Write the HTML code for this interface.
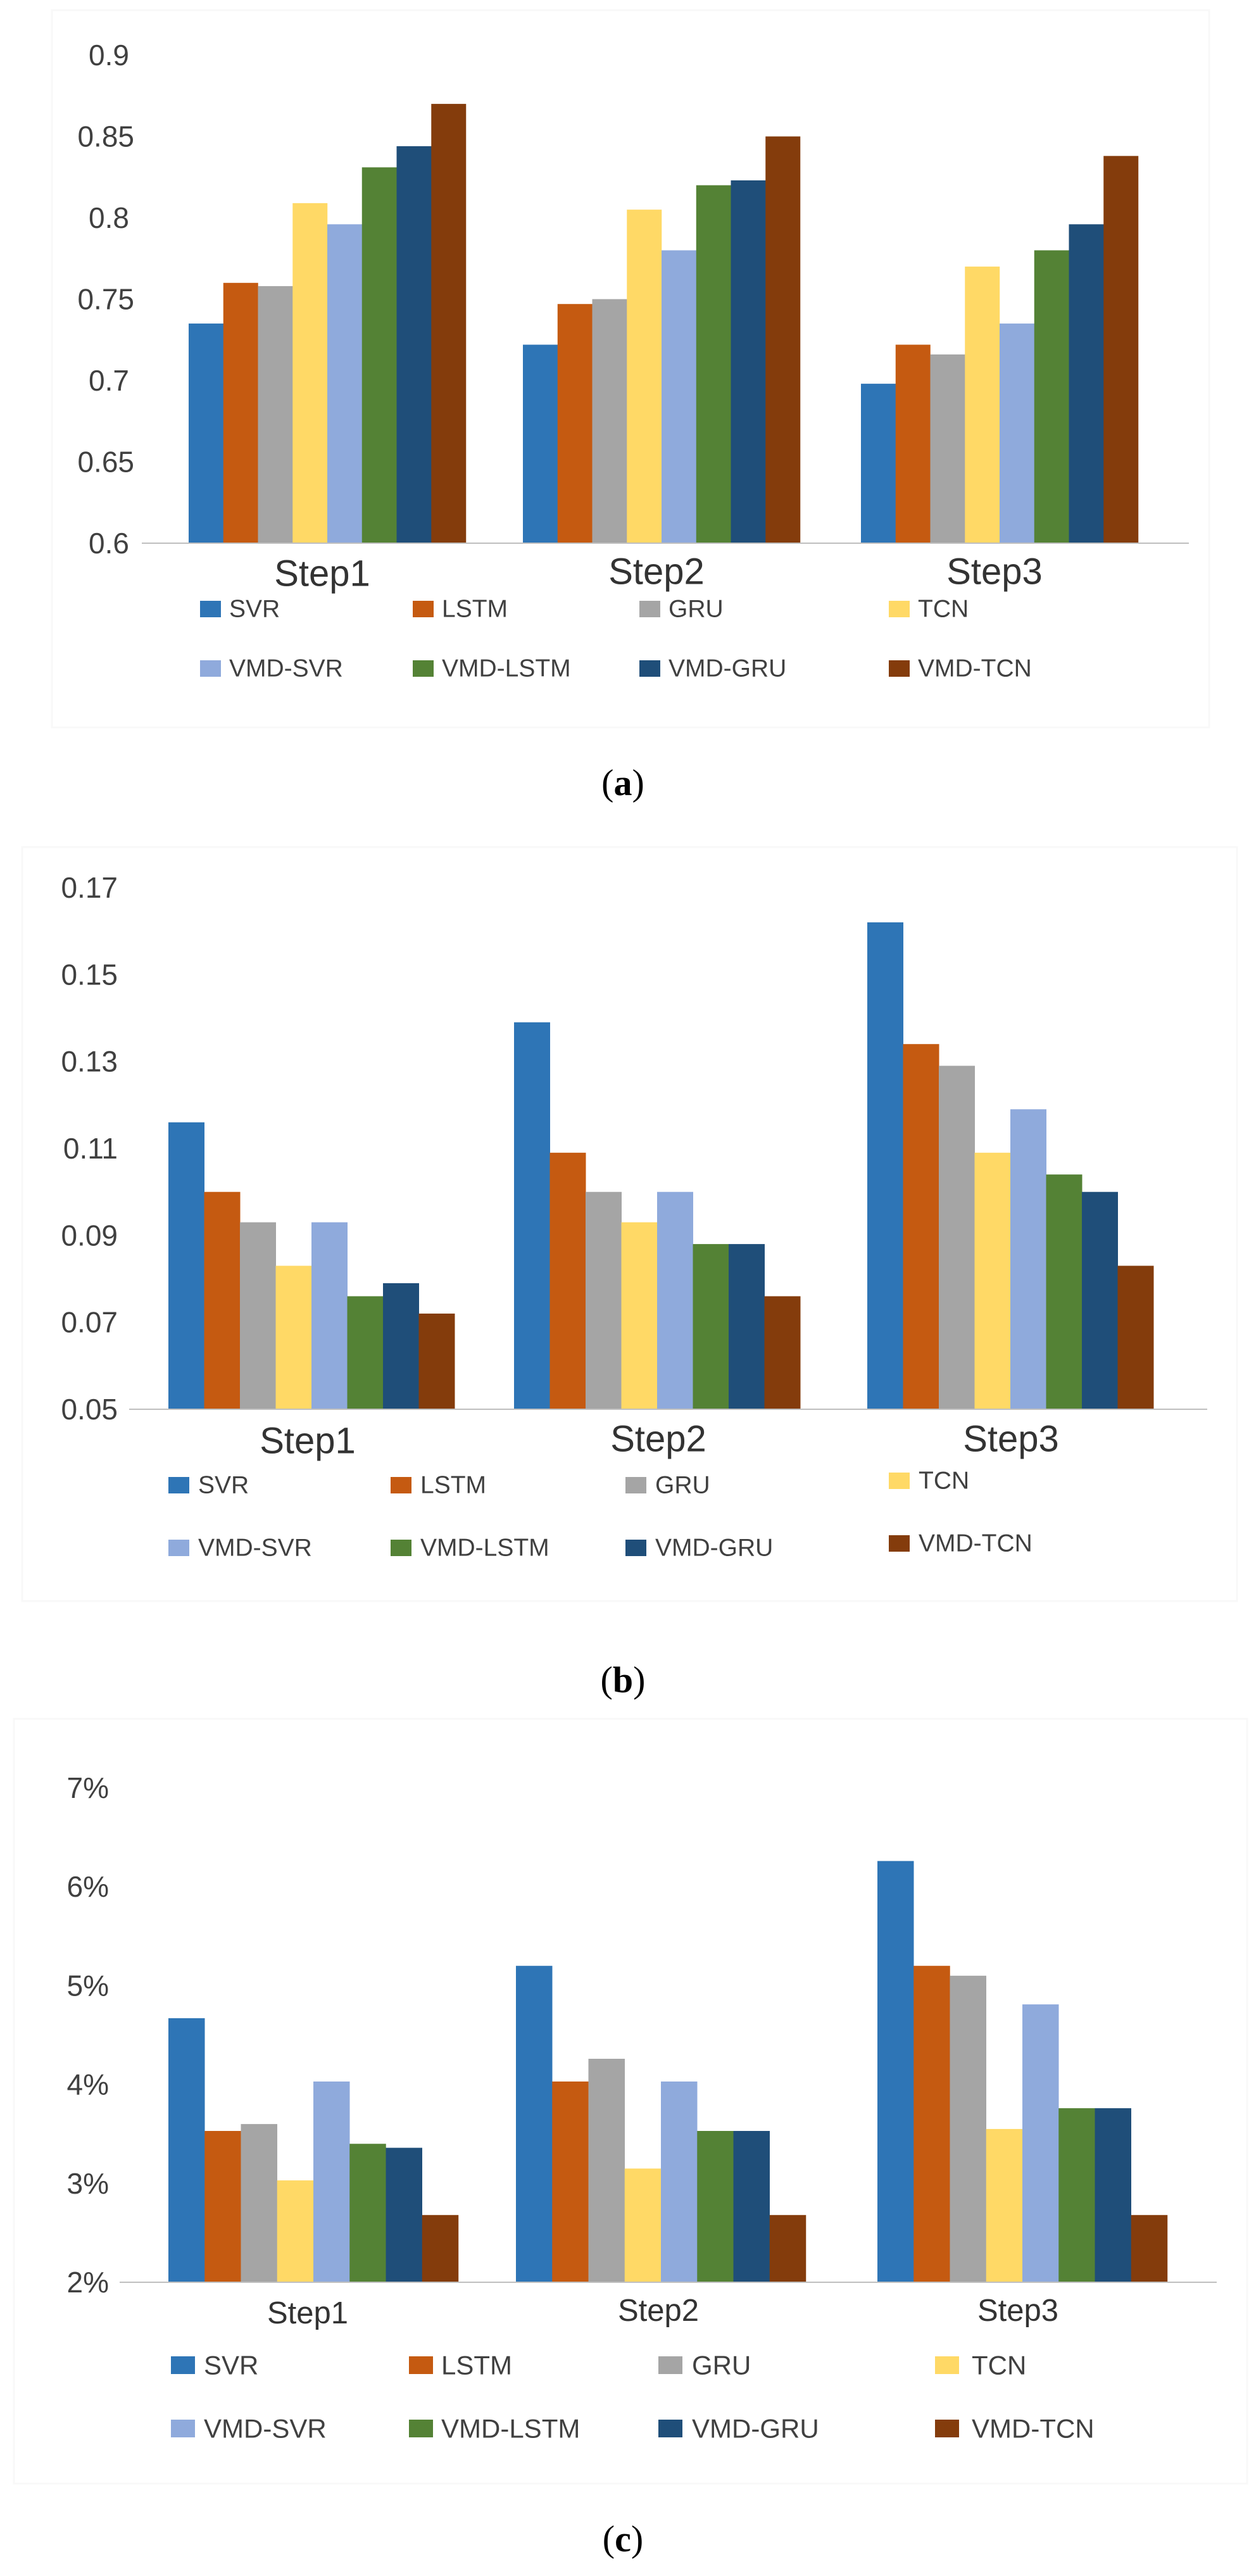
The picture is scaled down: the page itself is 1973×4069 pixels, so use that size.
<!DOCTYPE html>
<html><head><meta charset="utf-8"><style>
html,body{margin:0;padding:0;background:#fff;}
svg{display:block;}
text{font-family:"Liberation Sans",sans-serif;fill:#404040;}
.t{font-size:46px;text-anchor:end;dominant-baseline:central;}
.s{font-size:58px;text-anchor:middle;dominant-baseline:central;fill:#333;}
.l{font-size:39px;dominant-baseline:central;}
.cap{font-family:"Liberation Serif",serif;font-size:58px;text-anchor:middle;dominant-baseline:central;fill:#000;}
</style></head><body>
<svg width="1973" height="4069" viewBox="0 0 1973 4069" xmlns="http://www.w3.org/2000/svg">
<rect width="1973" height="4069" fill="#fff"/>
<!-- panel a -->
<rect x="82" y="16" width="1828" height="1133" fill="#fff" stroke="#f8f8f8" stroke-width="3"/>
<text class="t" x="204" y="87">0.9</text>
<text class="t" x="212" y="215.5">0.85</text>
<text class="t" x="204" y="344">0.8</text>
<text class="t" x="212" y="472.5">0.75</text>
<text class="t" x="204" y="601">0.7</text>
<text class="t" x="212" y="729.5">0.65</text>
<text class="t" x="204" y="858">0.6</text>
<g>
<rect x="298" y="511.05" width="55" height="346.95" fill="#2e75b6"/>
<rect x="352.75" y="446.8" width="55" height="411.2" fill="#c55a11"/>
<rect x="407.5" y="451.94" width="55" height="406.06" fill="#a5a5a5"/>
<rect x="462.25" y="320.87" width="55" height="537.13" fill="#ffd966"/>
<rect x="517" y="354.28" width="55" height="503.72" fill="#8faadc"/>
<rect x="571.75" y="264.33" width="55" height="593.67" fill="#548235"/>
<rect x="626.5" y="230.92" width="55" height="627.08" fill="#1f4e79"/>
<rect x="681.25" y="164.1" width="55" height="693.9" fill="#843c0c"/>
<rect x="826" y="544.46" width="55" height="313.54" fill="#2e75b6"/>
<rect x="880.75" y="480.21" width="55" height="377.79" fill="#c55a11"/>
<rect x="935.5" y="472.5" width="55" height="385.5" fill="#a5a5a5"/>
<rect x="990.25" y="331.15" width="55" height="526.85" fill="#ffd966"/>
<rect x="1045" y="395.4" width="55" height="462.6" fill="#8faadc"/>
<rect x="1099.75" y="292.6" width="55" height="565.4" fill="#548235"/>
<rect x="1154.5" y="284.89" width="55" height="573.11" fill="#1f4e79"/>
<rect x="1209.25" y="215.5" width="55" height="642.5" fill="#843c0c"/>
<rect x="1360" y="606.14" width="55" height="251.86" fill="#2e75b6"/>
<rect x="1414.75" y="544.46" width="55" height="313.54" fill="#c55a11"/>
<rect x="1469.5" y="559.88" width="55" height="298.12" fill="#a5a5a5"/>
<rect x="1524.25" y="421.1" width="55" height="436.9" fill="#ffd966"/>
<rect x="1579" y="511.05" width="55" height="346.95" fill="#8faadc"/>
<rect x="1633.75" y="395.4" width="55" height="462.6" fill="#548235"/>
<rect x="1688.5" y="354.28" width="55" height="503.72" fill="#1f4e79"/>
<rect x="1743.25" y="246.34" width="55" height="611.66" fill="#843c0c"/>
</g>
<line x1="224" y1="858" x2="1878" y2="858" stroke="#bfbfbf" stroke-width="2"/>
<text class="s" x="509" y="906">Step1</text>
<text class="s" x="1037" y="903">Step2</text>
<text class="s" x="1571" y="903">Step3</text>
<g>
<rect x="316" y="949" width="33" height="26" fill="#2e75b6"/><text class="l" x="362" y="962">SVR</text>
<rect x="652" y="949" width="33" height="26" fill="#c55a11"/><text class="l" x="698" y="962">LSTM</text>
<rect x="1010" y="949" width="33" height="26" fill="#a5a5a5"/><text class="l" x="1056" y="962">GRU</text>
<rect x="1404" y="949" width="33" height="26" fill="#ffd966"/><text class="l" x="1450" y="962">TCN</text>
<rect x="316" y="1043" width="33" height="26" fill="#8faadc"/><text class="l" x="362" y="1056">VMD-SVR</text>
<rect x="652" y="1043" width="33" height="26" fill="#548235"/><text class="l" x="698" y="1056">VMD-LSTM</text>
<rect x="1010" y="1043" width="33" height="26" fill="#1f4e79"/><text class="l" x="1056" y="1056">VMD-GRU</text>
<rect x="1404" y="1043" width="33" height="26" fill="#843c0c"/><text class="l" x="1450" y="1056">VMD-TCN</text>
</g>
<text class="cap" x="984" y="1236">(<tspan font-weight="bold">a</tspan>)</text>

<!-- panel b -->
<rect x="35" y="1338" width="1919" height="1191" fill="#fff" stroke="#f8f8f8" stroke-width="3"/>
<text class="t" x="186" y="1402">0.17</text>
<text class="t" x="186" y="1539.3">0.15</text>
<text class="t" x="186" y="1676.7">0.13</text>
<text class="t" x="186" y="1814">0.11</text>
<text class="t" x="186" y="1951.3">0.09</text>
<text class="t" x="186" y="2088.7">0.07</text>
<text class="t" x="186" y="2226">0.05</text>
<g>
<rect x="266" y="1772.8" width="57" height="453.2" fill="#2e75b6"/>
<rect x="322.5" y="1882.7" width="57" height="343.3" fill="#c55a11"/>
<rect x="379" y="1930.7" width="57" height="295.3" fill="#a5a5a5"/>
<rect x="435.5" y="1999.4" width="57" height="226.6" fill="#ffd966"/>
<rect x="492" y="1930.7" width="57" height="295.3" fill="#8faadc"/>
<rect x="548.5" y="2047.5" width="57" height="178.5" fill="#548235"/>
<rect x="605" y="2026.9" width="57" height="199.1" fill="#1f4e79"/>
<rect x="661.5" y="2074.9" width="57" height="151.1" fill="#843c0c"/>
<rect x="812" y="1614.8" width="57" height="611.2" fill="#2e75b6"/>
<rect x="868.5" y="1820.8" width="57" height="405.2" fill="#c55a11"/>
<rect x="925" y="1882.7" width="57" height="343.3" fill="#a5a5a5"/>
<rect x="981.5" y="1930.7" width="57" height="295.3" fill="#ffd966"/>
<rect x="1038" y="1882.7" width="57" height="343.3" fill="#8faadc"/>
<rect x="1094.5" y="1965.1" width="57" height="260.9" fill="#548235"/>
<rect x="1151" y="1965.1" width="57" height="260.9" fill="#1f4e79"/>
<rect x="1207.5" y="2047.5" width="57" height="178.5" fill="#843c0c"/>
<rect x="1370" y="1456.9" width="57" height="769.1" fill="#2e75b6"/>
<rect x="1426.5" y="1649.2" width="57" height="576.8" fill="#c55a11"/>
<rect x="1483" y="1683.5" width="57" height="542.5" fill="#a5a5a5"/>
<rect x="1539.5" y="1820.8" width="57" height="405.2" fill="#ffd966"/>
<rect x="1596" y="1752.2" width="57" height="473.8" fill="#8faadc"/>
<rect x="1652.5" y="1855.2" width="57" height="370.8" fill="#548235"/>
<rect x="1709" y="1882.7" width="57" height="343.3" fill="#1f4e79"/>
<rect x="1765.5" y="1999.4" width="57" height="226.6" fill="#843c0c"/>
</g>
<line x1="204" y1="2226" x2="1907" y2="2226" stroke="#bfbfbf" stroke-width="2"/>
<text class="s" x="486" y="2276">Step1</text>
<text class="s" x="1040" y="2273">Step2</text>
<text class="s" x="1597" y="2273">Step3</text>
<g>
<rect x="266" y="2333" width="33" height="26" fill="#2e75b6"/><text class="l" x="313" y="2346">SVR</text>
<rect x="617" y="2333" width="33" height="26" fill="#c55a11"/><text class="l" x="664" y="2346">LSTM</text>
<rect x="988" y="2333" width="33" height="26" fill="#a5a5a5"/><text class="l" x="1035" y="2346">GRU</text>
<rect x="1404" y="2326" width="33" height="26" fill="#ffd966"/><text class="l" x="1451" y="2339">TCN</text>
<rect x="266" y="2432" width="33" height="26" fill="#8faadc"/><text class="l" x="313" y="2445">VMD-SVR</text>
<rect x="617" y="2432" width="33" height="26" fill="#548235"/><text class="l" x="664" y="2445">VMD-LSTM</text>
<rect x="988" y="2432" width="33" height="26" fill="#1f4e79"/><text class="l" x="1035" y="2445">VMD-GRU</text>
<rect x="1404" y="2425" width="33" height="26" fill="#843c0c"/><text class="l" x="1451" y="2438">VMD-TCN</text>
</g>
<text class="cap" x="984" y="2653">(<tspan font-weight="bold">b</tspan>)</text>

<!-- panel c -->
<rect x="22" y="2715" width="1948" height="1208" fill="#fff" stroke="#f8f8f8" stroke-width="3"/>
<text class="t" x="172" y="2824">7%</text>
<text class="t" x="172" y="2980">6%</text>
<text class="t" x="172" y="3136.4">5%</text>
<text class="t" x="172" y="3292.6">4%</text>
<text class="t" x="172" y="3448.8">3%</text>
<text class="t" x="172" y="3605">2%</text>
<g>
<rect x="266" y="3187.9" width="57.5" height="417.1" fill="#2e75b6"/>
<rect x="323.25" y="3366" width="57.5" height="239" fill="#c55a11"/>
<rect x="380.5" y="3355.1" width="57.5" height="249.9" fill="#a5a5a5"/>
<rect x="437.75" y="3444.1" width="57.5" height="160.9" fill="#ffd966"/>
<rect x="495" y="3287.9" width="57.5" height="317.1" fill="#8faadc"/>
<rect x="552.25" y="3386.3" width="57.5" height="218.7" fill="#548235"/>
<rect x="609.5" y="3392.6" width="57.5" height="212.4" fill="#1f4e79"/>
<rect x="666.75" y="3498.8" width="57.5" height="106.2" fill="#843c0c"/>
<rect x="815" y="3105.2" width="57.5" height="499.8" fill="#2e75b6"/>
<rect x="872.25" y="3287.9" width="57.5" height="317.1" fill="#c55a11"/>
<rect x="929.5" y="3252" width="57.5" height="353" fill="#a5a5a5"/>
<rect x="986.75" y="3425.4" width="57.5" height="179.6" fill="#ffd966"/>
<rect x="1044" y="3287.9" width="57.5" height="317.1" fill="#8faadc"/>
<rect x="1101.25" y="3366" width="57.5" height="239" fill="#548235"/>
<rect x="1158.5" y="3366" width="57.5" height="239" fill="#1f4e79"/>
<rect x="1215.75" y="3498.8" width="57.5" height="106.2" fill="#843c0c"/>
<rect x="1386" y="2939.6" width="57.5" height="665.4" fill="#2e75b6"/>
<rect x="1443.25" y="3105.2" width="57.5" height="499.8" fill="#c55a11"/>
<rect x="1500.5" y="3120.8" width="57.5" height="484.2" fill="#a5a5a5"/>
<rect x="1557.75" y="3362.9" width="57.5" height="242.1" fill="#ffd966"/>
<rect x="1615" y="3166.1" width="57.5" height="438.9" fill="#8faadc"/>
<rect x="1672.25" y="3330.1" width="57.5" height="274.9" fill="#548235"/>
<rect x="1729.5" y="3330.1" width="57.5" height="274.9" fill="#1f4e79"/>
<rect x="1786.75" y="3498.8" width="57.5" height="106.2" fill="#843c0c"/>
</g>
<line x1="189" y1="3605" x2="1922" y2="3605" stroke="#bfbfbf" stroke-width="2"/>
<text class="s" x="486" y="3654" style="font-size:49px">Step1</text>
<text class="s" x="1040" y="3650" style="font-size:49px">Step2</text>
<text class="s" x="1608" y="3650" style="font-size:49px">Step3</text>
<g>
<rect x="270" y="3722" width="38" height="28" fill="#2e75b6"/><text class="l" style="font-size:42px" x="322" y="3736">SVR</text>
<rect x="646" y="3722" width="38" height="28" fill="#c55a11"/><text class="l" style="font-size:42px" x="697" y="3736">LSTM</text>
<rect x="1040" y="3722" width="38" height="28" fill="#a5a5a5"/><text class="l" style="font-size:42px" x="1093" y="3736">GRU</text>
<rect x="1477" y="3722" width="38" height="28" fill="#ffd966"/><text class="l" style="font-size:42px" x="1535" y="3736">TCN</text>
<rect x="270" y="3822" width="38" height="28" fill="#8faadc"/><text class="l" style="font-size:42px" x="322" y="3836">VMD-SVR</text>
<rect x="646" y="3822" width="38" height="28" fill="#548235"/><text class="l" style="font-size:42px" x="697" y="3836">VMD-LSTM</text>
<rect x="1040" y="3822" width="38" height="28" fill="#1f4e79"/><text class="l" style="font-size:42px" x="1093" y="3836">VMD-GRU</text>
<rect x="1477" y="3822" width="38" height="28" fill="#843c0c"/><text class="l" style="font-size:42px" x="1535" y="3836">VMD-TCN</text>
</g>
<text class="cap" x="984" y="4010">(<tspan font-weight="bold">c</tspan>)</text>
</svg>
</body></html>
